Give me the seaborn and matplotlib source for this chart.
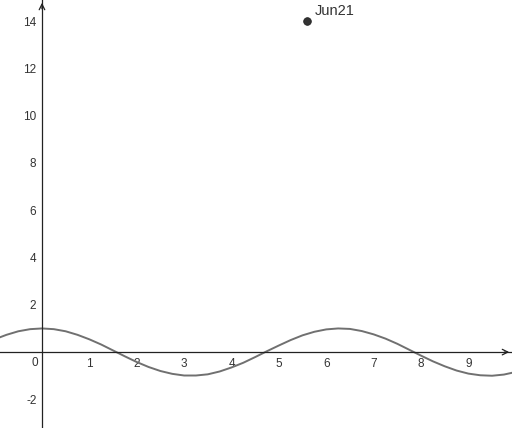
import matplotlib
matplotlib.use("Agg")
import matplotlib.pyplot as plt
import seaborn as sns
import pandas as pd

# curve values (y = cos x shape)
curve_x = [-1.0, -0.75, -0.5, -0.25, 0.0, 0.25, 0.5, 0.75, 1.0, 1.25, 1.5, 1.75,
           2.0, 2.25, 2.5, 2.75, 3.0, 3.25, 3.5, 3.75, 4.0, 4.25, 4.5, 4.75,
           5.0, 5.25, 5.5, 5.75, 6.0, 6.25, 6.5, 6.75, 7.0, 7.25, 7.5, 7.75,
           8.0, 8.25, 8.5, 8.75, 9.0, 9.25, 9.5, 9.75, 10.0]
curve_y = [0.54, 0.73, 0.88, 0.97, 1.00, 0.97, 0.88, 0.73, 0.54, 0.32, 0.07, -0.18,
           -0.42, -0.63, -0.80, -0.92, -0.99, -0.99, -0.94, -0.82, -0.65, -0.45, -0.21, 0.04,
           0.28, 0.51, 0.71, 0.86, 0.96, 1.00, 0.98, 0.89, 0.75, 0.57, 0.35, 0.10,
           -0.15, -0.39, -0.60, -0.78, -0.91, -0.98, -1.00, -0.95, -0.84]

point_x = [5.6]
point_y = [14.0]
point_label = "Jun21"

x_ticks = [1, 2, 3, 4, 5, 6, 7, 8, 9]
y_ticks = [-2, 2, 4, 6, 8, 10, 12, 14]

sns.set_style("white")
plt.rcParams['font.family'] = ['Liberation Sans', 'DejaVu Sans']
plt.rcParams['axes.unicode_minus'] = False

fig = plt.figure(figsize=(5.12, 4.28), dpi=100)
ax = fig.add_axes([0, 0, 1, 1])

df = pd.DataFrame({"x": curve_x, "y": curve_y})
sns.lineplot(data=df, x="x", y="y", ax=ax, color="#707070", linewidth=1.4, sort=False)
sns.scatterplot(x=point_x, y=point_y, ax=ax, color="#333333", s=30, edgecolor="#222222", linewidth=0.6, zorder=5)
ax.text(point_x[0] + 0.15, point_y[0] + 0.12, point_label, fontsize=10.5, color="#333333",
        ha="left", va="bottom")

ax.set_xlim(-0.886, 9.92)
ax.set_ylim(-3.21, 14.89)

for side in ["top", "right"]:
    ax.spines[side].set_visible(False)
for side in ["left", "bottom"]:
    ax.spines[side].set_position(("data", 0))
    ax.spines[side].set_color("#222222")
    ax.spines[side].set_linewidth(0.9)

ax.set_xticks(x_ticks)
ax.set_yticks(y_ticks)
ax.tick_params(axis="both", direction="out", length=3, width=0.8, color="#222222",
               labelsize=8.5, labelcolor="#333333")
ax.tick_params(axis="x", pad=1.5)
ax.tick_params(axis="y", pad=1)
ax.set_xlabel("")
ax.set_ylabel("")
ax.text(-0.08, -0.2, "0", fontsize=8.5, color="#333333", ha="right", va="top")

# axis arrows
ax.annotate("", xy=(9.92, 0), xytext=(9.7, 0),
            arrowprops=dict(arrowstyle="->", color="#222222", lw=0.9))
ax.annotate("", xy=(0, 14.89), xytext=(0, 14.4),
            arrowprops=dict(arrowstyle="->", color="#222222", lw=0.9))

fig.savefig("out.png", dpi=100)
plt.close()
